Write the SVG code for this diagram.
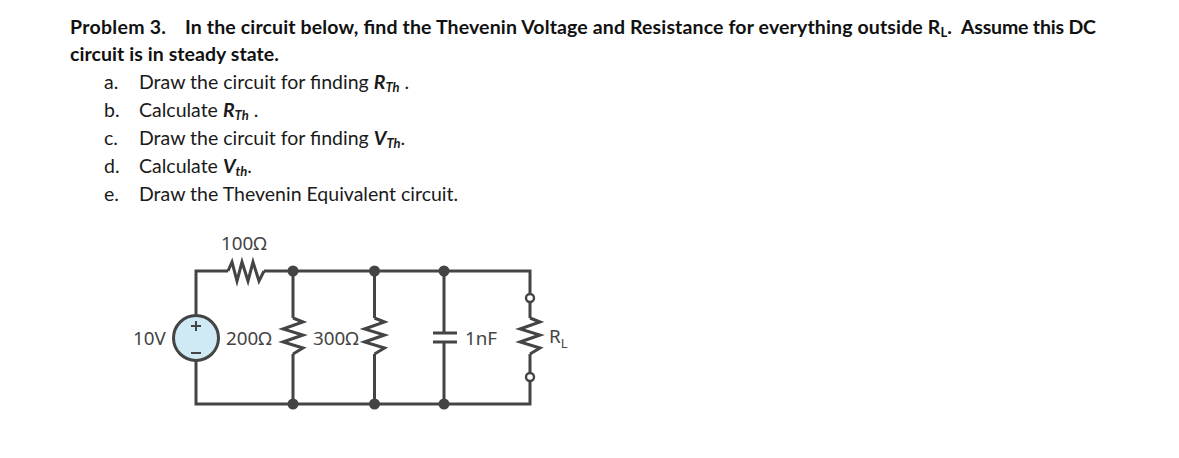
<svg xmlns="http://www.w3.org/2000/svg" width="1179" height="458" viewBox="0 0 1179 458">
<style>
.t{font-family:Lato,"Liberation Sans",sans-serif;font-size:19.500px;fill:#1a1a1a}
.h{font-family:Lato,"Liberation Sans",sans-serif;font-size:19.500px;font-weight:700;fill:#111}
.bi{font-weight:700;font-style:italic}
.sm{font-size:13px;font-weight:700;font-style:italic}
.c{font-family:"Noto Sans","Open Sans",sans-serif;font-size:18.800px;fill:#444}
.w{fill:none;stroke:#444;stroke-width:3}
.r{fill:none;stroke:#444;stroke-width:3;stroke-linejoin:miter}
.d{fill:#444}
</style>
<rect width="1179" height="458" fill="#fff"/>
<g id="problem-text">
<text class="h" x="70" y="33.500" textLength="96">Problem 3.</text>
<text class="h" x="185" y="33.500" textLength="767">In the circuit below, find the Thevenin Voltage and Resistance for everything outside R<tspan font-size="13" dy="3">L</tspan><tspan dy="-3">.</tspan></text>
<text class="h" x="961" y="33.500" textLength="135">Assume this DC</text>
<text class="h" x="70" y="60.500" textLength="209">circuit is in steady state.</text>
<text class="t" x="104" y="89">a.</text>
<text class="t" x="139" y="89">Draw the circuit for finding <tspan class="bi">R</tspan><tspan class="sm" dy="3">Th</tspan><tspan dy="-3"> .</tspan></text>
<text class="t" x="104" y="117">b.</text>
<text class="t" x="139" y="117">Calculate <tspan class="bi">R</tspan><tspan class="sm" dy="3">Th</tspan><tspan dy="-3"> .</tspan></text>
<text class="t" x="104" y="145">c.</text>
<text class="t" x="139" y="145">Draw the circuit for finding <tspan class="bi">V</tspan><tspan class="sm" dy="3">Th</tspan><tspan dy="-3">.</tspan></text>
<text class="t" x="104" y="173">d.</text>
<text class="t" x="139" y="173">Calculate <tspan class="bi">V</tspan><tspan class="sm" dy="3">th</tspan><tspan dy="-3">.</tspan></text>
<text class="t" x="104" y="201">e.</text>
<text class="t" x="139" y="201">Draw the Thevenin Equivalent circuit.</text>
</g>
<g id="connectors">
<path class="w" d="M196 316V271H228M264 271H530V294M530 302V318M530 354V373M530 381V404H196V360"/>
<path class="w" d="M293 271V318M293 354V404M374.500 271V318M374.500 354V404M444 271V333M444 342V404"/>
</g>
<g id="source-10V">
<circle cx="196" cy="338" r="22.500" fill="#cfe9f5" stroke="#444" stroke-width="3"/>
<path d="M191 326H201M196 321V331M191 353H201" fill="none" stroke="#444" stroke-width="2"/>
<text class="c" x="133" y="345">10V</text>
</g>
<g id="R-100">
<path class="r" d="M228 271L232 262L237 281L242 262L248 281L253 262L259 281L264 271"/>
<text class="c" x="221" y="250">100Ω</text>
</g>
<g id="R-200">
<path class="r" d="M293 318L303 322L283 329L303 335L283 342L303 348L293 354"/>
<text class="c" x="226" y="345">200Ω</text>
</g>
<g id="R-300">
<path class="r" d="M374.500 318L384.500 322L364.500 329L384.500 335L364.500 342L384.500 348L374.500 354"/>
<text class="c" x="313" y="345">300Ω</text>
</g>
<g id="C-1nF">
<path fill="none" stroke="#444" stroke-width="3" d="M433 333H457M433 342H457"/>
<text class="c" x="465" y="345">1nF</text>
</g>
<g id="R-L">
<path class="r" d="M530 318L540 322L520 329L540 335L520 342L540 348L530 354"/>
<circle cx="530" cy="298" r="4" fill="#fff" stroke="#444" stroke-width="2.400"/>
<circle cx="530" cy="377" r="4" fill="#fff" stroke="#444" stroke-width="2.400"/>
<text class="c" x="549" y="343">R<tspan font-size="13" dy="5">L</tspan></text>
</g>
<g id="junctions">
<circle class="d" cx="293" cy="271" r="5.500"/>
<circle class="d" cx="374.500" cy="271" r="5.500"/>
<circle class="d" cx="444" cy="271" r="5.500"/>
<circle class="d" cx="293" cy="404" r="5.500"/>
<circle class="d" cx="374.500" cy="404" r="5.500"/>
<circle class="d" cx="444" cy="404" r="5.500"/>
</g>
</svg>
